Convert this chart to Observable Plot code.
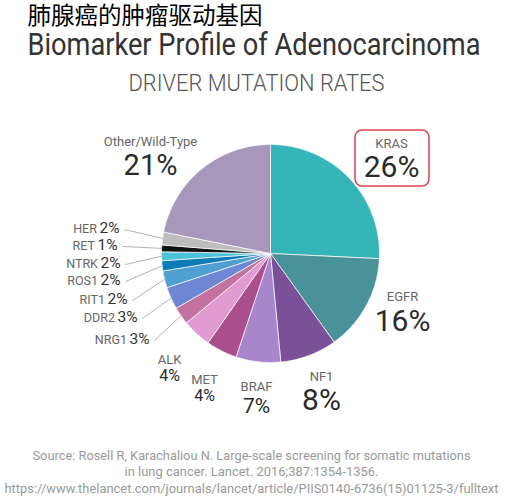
<!DOCTYPE html>
<html><head><meta charset="utf-8">
<script src="https://cdn.jsdelivr.net/npm/d3@7"></script>
<script src="https://cdn.jsdelivr.net/npm/@observablehq/plot@0.6"></script>
<style>body{margin:0;background:#fff} svg{display:block}</style>
</head><body><div id="chart"></div>
<script>
// ---- data ----
const genes = ["KRAS","EGFR","NF1","BRAF","MET","ALK","NRG1","DDR2","RIT1","ROS1","NTRK","RET","HER","Other/Wild-Type"];
const labelPct = ["26%","16%","8%","7%","4%","4%","3%","3%","2%","2%","2%","1%","2%","21%"];
// slice shares as drawn in the picture (percent of the full circle)
const arcShare = [25.7,14.3,8.4,6.6,4.6,4.3,2.6,3.3,2.5,1.5,1.3,1.0,1.9,21.8];
const sliceColors = ["#35b5b8","#4a9299","#7a5099","#a786cb","#a94f8b","#e29bd0","#c3729f","#6e87d3","#4f9fd2","#0c7bb8","#4cc3d9","#111111","#bdbdbd","#a897ba"];
const titleZh = "肺腺癌的肿瘤驱动基因";
const title = "Biomarker Profile of Adenocarcinoma";
const subtitle = "DRIVER MUTATION RATES";
const sourceLines = [
  "Source: Rosell R, Karachaliou N. Large-scale screening for somatic mutations",
  "in lung cancer. Lancet. 2016;387:1354-1356.",
  "https://www.thelancet.com/journals/lancet/article/PIIS0140-6736(15)01125-3/fulltext"
];

// ---- layout ----
const W = 521, H = 499, CX = 270, CY = 253, R = 109;
const bigLabels = {
  "KRAS": {x: 391, ny: 143, py: 167, size: 30},
  "EGFR": {x: 402, ny: 296, py: 321, size: 30},
  "NF1": {x: 321, ny: 376, py: 400, size: 30},
  "BRAF": {x: 256, ny: 386, py: 406, size: 21},
  "MET": {x: 204, ny: 379, py: 395, size: 16},
  "ALK": {x: 169, ny: 359, py: 375, size: 16},
  "Other/Wild-Type": {x: 150, ny: 141, py: 165, size: 29}
};
const sideLabels = {
  "HER": {x: 119, y: 228}, "RET": {x: 117, y: 245}, "NTRK": {x: 120, y: 263},
  "ROS1": {x: 120, y: 280}, "RIT1": {x: 127, y: 299}, "DDR2": {x: 137, y: 317}, "NRG1": {x: 149, y: 339}
};
const krasBox = {x1: 355, x2: 429, y1: 130, y2: 186};
const fitWidths = new Map([[title, 453], [subtitle, 256], [sourceLines[0], 438], [sourceLines[1], 254], [sourceLines[2], 494]]);
const FONT = "Roboto";

// ---- derived ----
const rows = genes.map((g, i) => ({gene: g, pct: labelPct[i], share: arcShare[i], color: sliceColors[i]}));
const arcs = d3.pie().sort(null).value(d => d.share).startAngle(0).endAngle(2 * Math.PI)(rows);
const pt = (a, r) => [CX + r * Math.sin(a), CY - r * Math.cos(a)];
const polys = [];
for (const a of arcs) {
  const n = Math.max(2, Math.ceil((a.endAngle - a.startAngle) / (Math.PI / 360)));
  const c = pt(0, 0);
  polys.push({gene: a.data.gene, x: c[0], y: c[1]});
  for (let k = 0; k <= n; k++) {
    const t = a.startAngle + (a.endAngle - a.startAngle) * k / n;
    const p = pt(t, R);
    polys.push({gene: a.data.gene, x: p[0], y: p[1]});
  }
  polys.push({gene: a.data.gene, x: c[0], y: c[1]});
}
const arcByGene = new Map(arcs.map(a => [a.data.gene, a]));

const ctx = document.createElement("canvas").getContext("2d");
const measure = (t, size) => { ctx.font = `${size}px ${FONT}`; return ctx.measureText(t).width; };

const side = rows.filter(r => sideLabels[r.gene]).map(r => {
  const L = sideLabels[r.gene];
  const a = arcByGene.get(r.gene);
  const [ex, ey] = pt((a.startAngle + a.endAngle) / 2, R);
  return {gene: r.gene, pct: r.pct, x: L.x, y: L.y, nx: L.x - measure(r.pct, 15.5) - 2.5, lx1: L.x + 5, ly1: L.y + 1, lx2: ex, ly2: ey};
});
const big = rows.filter(r => bigLabels[r.gene]).map(r => ({...r, ...bigLabels[r.gene]}));

const chart = Plot.plot({
  width: W, height: H, margin: 0,
  x: {domain: [0, W], range: [0, W], axis: null},
  y: {domain: [0, H], range: [0, H], axis: null},
  color: {domain: genes, range: sliceColors},
  style: {fontFamily: FONT, background: "#fff"},
  marks: [
    Plot.line(polys, {x: "x", y: "y", z: "gene", fill: "gene", stroke: "white", strokeWidth: 0.7, curve: "linear"}),
    Plot.link(side, {x1: "lx1", y1: "ly1", x2: "lx2", y2: "ly2", stroke: "#b3b3b3", strokeWidth: 1}),
    Plot.text(side, {x: "x", y: "y", text: "pct", textAnchor: "end", fontSize: 15.5, fill: "#333"}),
    Plot.text(side, {x: "nx", y: "y", text: "gene", textAnchor: "end", fontSize: 12.5, fill: "#666"}),
    Plot.text(big, {x: "x", y: "ny", text: "gene", fontSize: 13, fill: "#666"}),
    Plot.text(big, {x: "x", y: "py", text: "pct", fontSize: d => d.size, fill: "#2b2b2b"}),
    Plot.rect([krasBox], {x1: "x1", x2: "x2", y1: "y1", y2: "y2", rx: 7, fill: "none", stroke: "#d8434f", strokeWidth: 1.5}),
    Plot.text([titleZh], {x: 27, y: 16, text: d => d, textAnchor: "start", fontSize: 23.5, fill: "#000", fontFamily: "Noto Sans CJK SC"}),
    Plot.text([title], {x: 27, y: 44.5, text: d => d, textAnchor: "start", fontSize: 30.5, fill: "#333"}),
    Plot.text([subtitle], {x: 256, y: 83, text: d => d, fontSize: 24, fill: "#555", fontWeight: 300}),
    Plot.text(sourceLines, {x: 251, y: (d, i) => 455 + i * 16.5, text: d => d, fontSize: 13, fill: "#9a9a9a"})
  ]
});
// fit the wide titles/source lines to the widths they take in the picture
for (const t of chart.querySelectorAll("text")) {
  const w = fitWidths.get(t.textContent);
  if (w) { t.setAttribute("textLength", w); t.setAttribute("lengthAdjust", "spacingAndGlyphs"); }
}
document.getElementById("chart").append(chart);
</script>
</body></html>
